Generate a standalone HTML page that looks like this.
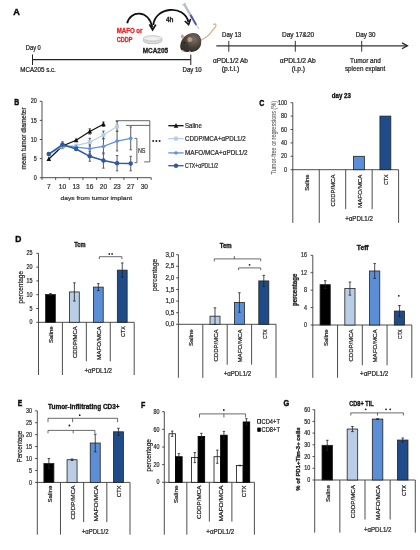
<!DOCTYPE html>
<html><head><meta charset="utf-8"><title>Figure</title>
<style>
html,body{margin:0;padding:0;background:#fff;}
body{width:420px;height:550px;overflow:hidden;}
svg{display:block;font-family:"Liberation Sans", "DejaVu Sans", sans-serif;}
</style></head>
<body>
<svg width="420" height="550" viewBox="0 0 420 550">
<rect width="420" height="550" fill="#fff"/>
<text x="13.15" y="15" font-size="9.6" font-weight="bold" fill="#0a0a0a" stroke="#0a0a0a" stroke-width="0.45" textLength="6.6" lengthAdjust="spacingAndGlyphs">A</text>
<line x1="32.5" y1="59.6" x2="190.8" y2="59.6" stroke="#222" stroke-width="1.1"/>
<line x1="32.5" y1="54.5" x2="32.5" y2="65" stroke="#222" stroke-width="1"/>
<line x1="190.8" y1="54.5" x2="190.8" y2="65" stroke="#222" stroke-width="1"/>
<text x="25.8" y="50.4" font-size="6.3" fill="#222" stroke="#222" stroke-width="0.22" text-anchor="start" textLength="15" lengthAdjust="spacingAndGlyphs">Day 0</text>
<text x="20.3" y="72.4" font-size="6.3" fill="#222" stroke="#222" stroke-width="0.22" text-anchor="start" textLength="35.5" lengthAdjust="spacingAndGlyphs">MCA205 s.c.</text>
<text x="182.5" y="72.4" font-size="6.3" fill="#222" stroke="#222" stroke-width="0.22" text-anchor="start" textLength="19.2" lengthAdjust="spacingAndGlyphs">Day 10</text>
<line x1="216.3" y1="45.8" x2="407" y2="45.8" stroke="#333" stroke-width="1.3"/>
<polyline points="402,42.9 407.5,45.8 402,48.7" fill="none" stroke="#222" stroke-width="1.2"/>
<line x1="228.8" y1="40.8" x2="228.8" y2="51.7" stroke="#333" stroke-width="1"/>
<line x1="295.3" y1="40.8" x2="295.3" y2="51.7" stroke="#333" stroke-width="1"/>
<line x1="361.7" y1="40.8" x2="361.7" y2="51.7" stroke="#333" stroke-width="1"/>
<text x="222" y="37" font-size="6.3" fill="#222" stroke="#222" stroke-width="0.22" text-anchor="start" textLength="19.2" lengthAdjust="spacingAndGlyphs">Day 13</text>
<text x="282" y="37.2" font-size="6.3" fill="#222" stroke="#222" stroke-width="0.22" text-anchor="start" textLength="32.2" lengthAdjust="spacingAndGlyphs">Day 17&amp;20</text>
<text x="355.8" y="37" font-size="6.3" fill="#222" stroke="#222" stroke-width="0.22" text-anchor="start" textLength="19.7" lengthAdjust="spacingAndGlyphs">Day 30</text>
<text x="213" y="63.2" font-size="6.3" fill="#222" stroke="#222" stroke-width="0.22" text-anchor="start" textLength="35" lengthAdjust="spacingAndGlyphs">αPDL1/2  Ab</text>
<text x="221.7" y="70.6" font-size="6.3" fill="#222" stroke="#222" stroke-width="0.22" text-anchor="start" textLength="17.5" lengthAdjust="spacingAndGlyphs">(p.t.i.)</text>
<text x="279.8" y="63.2" font-size="6.3" fill="#222" stroke="#222" stroke-width="0.22" text-anchor="start" textLength="36" lengthAdjust="spacingAndGlyphs">αPDL1/2  Ab</text>
<text x="291.7" y="70.6" font-size="6.3" fill="#222" stroke="#222" stroke-width="0.22" text-anchor="start" textLength="13.3" lengthAdjust="spacingAndGlyphs">(i.p.)</text>
<text x="350" y="62.9" font-size="6.3" fill="#222" stroke="#222" stroke-width="0.22" text-anchor="start" textLength="30.8" lengthAdjust="spacingAndGlyphs">Tumor and</text>
<text x="345" y="70.6" font-size="6.3" fill="#222" stroke="#222" stroke-width="0.22" text-anchor="start" textLength="40.3" lengthAdjust="spacingAndGlyphs">spleen explant</text>
<text x="116.7" y="33.3" font-size="6.4" font-weight="bold" fill="#f02020" stroke="#f02020" stroke-width="0.3" text-anchor="start" textLength="25.8" lengthAdjust="spacingAndGlyphs">MAFO or</text>
<text x="116.7" y="41.7" font-size="6.4" font-weight="bold" fill="#f02020" stroke="#f02020" stroke-width="0.3" text-anchor="start" textLength="15.8" lengthAdjust="spacingAndGlyphs">CDDP</text>
<text x="142.8" y="53.3" font-size="6.3" font-weight="bold" fill="#222" stroke="#222" stroke-width="0.3" text-anchor="start" textLength="25.2" lengthAdjust="spacingAndGlyphs">MCA205</text>
<text x="165.9" y="21.6" font-size="6.8" font-weight="bold" fill="#222" stroke="#222" stroke-width="0.3" text-anchor="start" textLength="7.4" lengthAdjust="spacingAndGlyphs">4h</text>
<path d="M127.2 23.2 C 130 10.5, 148.5 9, 152.4 27.5" fill="none" stroke="#111" stroke-width="1.8"/>
<polyline points="149.4,24.4 152.6,29.8 155.8,24.6" fill="none" stroke="#111" stroke-width="1.7"/>
<path d="M153.3 25 C 155 7, 184 4, 188.4 22" fill="none" stroke="#111" stroke-width="1.8"/>
<polyline points="184.8,21 188.6,24.6 190.6,19" fill="none" stroke="#111" stroke-width="1.7"/>
<path d="M143.3 38.6 L143.3 40.8 A9.3 3 0 0 0 161.9 40.8 L161.9 38.6 Z" fill="#dcdcdc" stroke="#a8a8a8" stroke-width="0.6"/>
<ellipse cx="152.6" cy="38.4" rx="9.3" ry="2.8" fill="#f2f2f2" stroke="#b0b0b0" stroke-width="0.6"/>
<ellipse cx="152.6" cy="38.6" rx="7.4" ry="1.9" fill="none" stroke="#d0d0d0" stroke-width="0.5"/>
<line x1="184" y1="3.8" x2="192.5" y2="18.5" stroke="#c4c6dc" stroke-width="2.6"/>
<line x1="184.6" y1="4.6" x2="192" y2="17.5" stroke="#a9acc9" stroke-width="0.8"/>
<line x1="190.5" y1="15" x2="196.3" y2="25" stroke="#4b52b2" stroke-width="1.9"/>
<line x1="196" y1="24.5" x2="199" y2="29" stroke="#9a9cb8" stroke-width="0.7"/>
<line x1="182.5" y1="5.2" x2="185.8" y2="3.2" stroke="#b8b8c8" stroke-width="1.1"/>
<defs><radialGradient id="mg" cx="0.62" cy="0.32" r="0.75"><stop offset="0" stop-color="#7d7164"/><stop offset="0.5" stop-color="#4f473f"/><stop offset="1" stop-color="#2a2622"/></radialGradient></defs>
<path d="M200.3 40.3 C 205 38.8, 209 35.5, 212 31.2 C 214 28.5, 216.6 26.6, 215.9 24.9 C 215.5 23.9, 214.4 23.7, 213.6 24.4" fill="none" stroke="#d5b98c" stroke-width="1.35" stroke-linecap="round"/>
<path d="M180.3 46.5 C 180.5 41, 183 37.5, 186 35.5 C 189 33, 194 32.3, 197.5 34 C 200.5 35.8, 201.5 39.5, 201.2 43 C 200.8 47.5, 198 50.8, 193 51.8 C 189 52.5, 184.5 52, 182 50.5 C 180.8 49.5, 180.2 48, 180.3 46.5 Z" fill="url(#mg)"/>
<ellipse cx="184.6" cy="46.2" rx="4.0" ry="4.6" fill="#3a3530" opacity="0.7"/>
<ellipse cx="182.4" cy="36.4" rx="1.5" ry="2.0" fill="#c7a68a"/>
<ellipse cx="189.8" cy="39.5" rx="2.3" ry="2.5" fill="#b99d82"/>
<ellipse cx="182.8" cy="50.8" rx="1.1" ry="0.8" fill="#c9a080"/>
<ellipse cx="189.8" cy="51.6" rx="1.2" ry="0.8" fill="#c9a080"/>
<circle cx="184.3" cy="42.6" r="0.6" fill="#111"/>
<text x="14.15" y="104.9" font-size="9.6" font-weight="bold" fill="#0a0a0a" stroke="#0a0a0a" stroke-width="0.45" textLength="5" lengthAdjust="spacingAndGlyphs">B</text>
<line x1="42" y1="101.3" x2="42" y2="177.7" stroke="#3a3a3a" stroke-width="0.9"/>
<line x1="42" y1="177.7" x2="151.2" y2="177.7" stroke="#3a3a3a" stroke-width="0.9"/>
<line x1="39.8" y1="177.7" x2="42" y2="177.7" stroke="#3a3a3a" stroke-width="0.9"/>
<text x="33.7" y="179.81" font-size="6.4" fill="#2a2a2a" stroke="#2a2a2a" stroke-width="0.22" text-anchor="start" textLength="3" lengthAdjust="spacingAndGlyphs">0</text>
<line x1="39.8" y1="158.6" x2="42" y2="158.6" stroke="#3a3a3a" stroke-width="0.9"/>
<text x="33.7" y="160.71" font-size="6.4" fill="#2a2a2a" stroke="#2a2a2a" stroke-width="0.22" text-anchor="start" textLength="3" lengthAdjust="spacingAndGlyphs">5</text>
<line x1="39.8" y1="139.5" x2="42" y2="139.5" stroke="#3a3a3a" stroke-width="0.9"/>
<text x="30.7" y="141.61" font-size="6.4" fill="#2a2a2a" stroke="#2a2a2a" stroke-width="0.22" text-anchor="start" textLength="6" lengthAdjust="spacingAndGlyphs">10</text>
<line x1="39.8" y1="120.4" x2="42" y2="120.4" stroke="#3a3a3a" stroke-width="0.9"/>
<text x="30.7" y="122.51" font-size="6.4" fill="#2a2a2a" stroke="#2a2a2a" stroke-width="0.22" text-anchor="start" textLength="6" lengthAdjust="spacingAndGlyphs">15</text>
<line x1="39.8" y1="101.3" x2="42" y2="101.3" stroke="#3a3a3a" stroke-width="0.9"/>
<text x="30.7" y="103.41" font-size="6.4" fill="#2a2a2a" stroke="#2a2a2a" stroke-width="0.22" text-anchor="start" textLength="6" lengthAdjust="spacingAndGlyphs">20</text>
<line x1="42" y1="177.7" x2="42" y2="179.9" stroke="#3a3a3a" stroke-width="0.9"/>
<line x1="55.65" y1="177.7" x2="55.65" y2="179.9" stroke="#3a3a3a" stroke-width="0.9"/>
<line x1="69.3" y1="177.7" x2="69.3" y2="179.9" stroke="#3a3a3a" stroke-width="0.9"/>
<line x1="82.95" y1="177.7" x2="82.95" y2="179.9" stroke="#3a3a3a" stroke-width="0.9"/>
<line x1="96.6" y1="177.7" x2="96.6" y2="179.9" stroke="#3a3a3a" stroke-width="0.9"/>
<line x1="110.25" y1="177.7" x2="110.25" y2="179.9" stroke="#3a3a3a" stroke-width="0.9"/>
<line x1="123.9" y1="177.7" x2="123.9" y2="179.9" stroke="#3a3a3a" stroke-width="0.9"/>
<line x1="137.55" y1="177.7" x2="137.55" y2="179.9" stroke="#3a3a3a" stroke-width="0.9"/>
<line x1="151.2" y1="177.7" x2="151.2" y2="179.9" stroke="#3a3a3a" stroke-width="0.9"/>
<text x="48.83" y="188.9" font-size="6.6" fill="#333" stroke="#333" stroke-width="0.22" text-anchor="middle">7</text>
<text x="62.48" y="188.9" font-size="6.6" fill="#333" stroke="#333" stroke-width="0.22" text-anchor="middle">10</text>
<text x="76.12" y="188.9" font-size="6.6" fill="#333" stroke="#333" stroke-width="0.22" text-anchor="middle">13</text>
<text x="89.78" y="188.9" font-size="6.6" fill="#333" stroke="#333" stroke-width="0.22" text-anchor="middle">16</text>
<text x="103.43" y="188.9" font-size="6.6" fill="#333" stroke="#333" stroke-width="0.22" text-anchor="middle">20</text>
<text x="117.08" y="188.9" font-size="6.6" fill="#333" stroke="#333" stroke-width="0.22" text-anchor="middle">23</text>
<text x="130.73" y="188.9" font-size="6.6" fill="#333" stroke="#333" stroke-width="0.22" text-anchor="middle">27</text>
<text x="144.38" y="188.9" font-size="6.6" fill="#333" stroke="#333" stroke-width="0.22" text-anchor="middle">30</text>
<text x="60.6" y="199.5" font-size="5.8" fill="#333" stroke="#333" stroke-width="0.22" text-anchor="start" textLength="71.4" lengthAdjust="spacingAndGlyphs">days from tumor implant</text>
<text transform="translate(25.54 107.4) rotate(-90)" font-size="6.4" stroke="#2a2a2a" stroke-width="0.22" fill="#2a2a2a" text-anchor="end" textLength="62.1" lengthAdjust="spacingAndGlyphs">mean tumor diameter</text>
<line x1="62.48" y1="141.79" x2="62.48" y2="148.67" stroke="#5a5a5a" stroke-width="1"/>
<line x1="61.27" y1="141.79" x2="63.68" y2="141.79" stroke="#5a5a5a" stroke-width="1"/>
<line x1="61.27" y1="148.67" x2="63.68" y2="148.67" stroke="#5a5a5a" stroke-width="1"/>
<line x1="89.78" y1="128.8" x2="89.78" y2="134.15" stroke="#5a5a5a" stroke-width="1"/>
<line x1="88.58" y1="128.8" x2="90.98" y2="128.8" stroke="#5a5a5a" stroke-width="1"/>
<line x1="88.58" y1="134.15" x2="90.98" y2="134.15" stroke="#5a5a5a" stroke-width="1"/>
<line x1="103.43" y1="121.93" x2="103.43" y2="126.51" stroke="#5a5a5a" stroke-width="1"/>
<line x1="102.23" y1="121.93" x2="104.63" y2="121.93" stroke="#5a5a5a" stroke-width="1"/>
<line x1="102.23" y1="126.51" x2="104.63" y2="126.51" stroke="#5a5a5a" stroke-width="1"/>
<line x1="89.78" y1="138.35" x2="89.78" y2="145.99" stroke="#5a5a5a" stroke-width="1"/>
<line x1="88.58" y1="138.35" x2="90.98" y2="138.35" stroke="#5a5a5a" stroke-width="1"/>
<line x1="88.58" y1="145.99" x2="90.98" y2="145.99" stroke="#5a5a5a" stroke-width="1"/>
<line x1="103.43" y1="131.1" x2="103.43" y2="138.74" stroke="#5a5a5a" stroke-width="1"/>
<line x1="102.23" y1="131.1" x2="104.63" y2="131.1" stroke="#5a5a5a" stroke-width="1"/>
<line x1="102.23" y1="138.74" x2="104.63" y2="138.74" stroke="#5a5a5a" stroke-width="1"/>
<line x1="117.08" y1="121.55" x2="117.08" y2="131.48" stroke="#5a5a5a" stroke-width="1"/>
<line x1="115.88" y1="121.55" x2="118.28" y2="121.55" stroke="#5a5a5a" stroke-width="1"/>
<line x1="115.88" y1="131.48" x2="118.28" y2="131.48" stroke="#5a5a5a" stroke-width="1"/>
<line x1="89.78" y1="144.08" x2="89.78" y2="153.25" stroke="#5a5a5a" stroke-width="1"/>
<line x1="88.58" y1="144.08" x2="90.98" y2="144.08" stroke="#5a5a5a" stroke-width="1"/>
<line x1="88.58" y1="153.25" x2="90.98" y2="153.25" stroke="#5a5a5a" stroke-width="1"/>
<line x1="103.43" y1="138.74" x2="103.43" y2="154.02" stroke="#5a5a5a" stroke-width="1"/>
<line x1="102.23" y1="138.74" x2="104.63" y2="138.74" stroke="#5a5a5a" stroke-width="1"/>
<line x1="102.23" y1="154.02" x2="104.63" y2="154.02" stroke="#5a5a5a" stroke-width="1"/>
<line x1="117.08" y1="131.1" x2="117.08" y2="150.96" stroke="#5a5a5a" stroke-width="1"/>
<line x1="115.88" y1="131.1" x2="118.28" y2="131.1" stroke="#5a5a5a" stroke-width="1"/>
<line x1="115.88" y1="150.96" x2="118.28" y2="150.96" stroke="#5a5a5a" stroke-width="1"/>
<line x1="130.73" y1="126.89" x2="130.73" y2="149.81" stroke="#5a5a5a" stroke-width="1"/>
<line x1="129.53" y1="126.89" x2="131.93" y2="126.89" stroke="#5a5a5a" stroke-width="1"/>
<line x1="129.53" y1="149.81" x2="131.93" y2="149.81" stroke="#5a5a5a" stroke-width="1"/>
<line x1="89.78" y1="151.34" x2="89.78" y2="161.27" stroke="#5a5a5a" stroke-width="1"/>
<line x1="88.58" y1="151.34" x2="90.98" y2="151.34" stroke="#5a5a5a" stroke-width="1"/>
<line x1="88.58" y1="161.27" x2="90.98" y2="161.27" stroke="#5a5a5a" stroke-width="1"/>
<line x1="103.43" y1="152.87" x2="103.43" y2="168.15" stroke="#5a5a5a" stroke-width="1"/>
<line x1="102.23" y1="152.87" x2="104.63" y2="152.87" stroke="#5a5a5a" stroke-width="1"/>
<line x1="102.23" y1="168.15" x2="104.63" y2="168.15" stroke="#5a5a5a" stroke-width="1"/>
<line x1="117.08" y1="155.54" x2="117.08" y2="170.82" stroke="#5a5a5a" stroke-width="1"/>
<line x1="115.88" y1="155.54" x2="118.28" y2="155.54" stroke="#5a5a5a" stroke-width="1"/>
<line x1="115.88" y1="170.82" x2="118.28" y2="170.82" stroke="#5a5a5a" stroke-width="1"/>
<line x1="130.73" y1="156.31" x2="130.73" y2="170.82" stroke="#5a5a5a" stroke-width="1"/>
<line x1="129.53" y1="156.31" x2="131.93" y2="156.31" stroke="#5a5a5a" stroke-width="1"/>
<line x1="129.53" y1="170.82" x2="131.93" y2="170.82" stroke="#5a5a5a" stroke-width="1"/>
<polyline points="48.83,158.98 62.48,145.99 76.12,140.26 89.78,131.48 103.43,124.22" fill="none" stroke="#111" stroke-width="1.3"/>
<polygon points="48.83,156.22 46.53,161.05 51.12,161.05" fill="#111"/>
<polygon points="62.48,143.23 60.18,148.06 64.78,148.06" fill="#111"/>
<polygon points="76.12,137.5 73.83,142.33 78.42,142.33" fill="#111"/>
<polygon points="89.78,128.72 87.48,133.55 92.08,133.55" fill="#111"/>
<polygon points="103.43,121.46 101.13,126.29 105.73,126.29" fill="#111"/>
<polyline points="48.83,154.02 62.48,146.38 76.12,145.61 89.78,142.17 103.43,134.92 117.08,126.51" fill="none" stroke="#b7cdea" stroke-width="1.2"/>
<rect x="46.88" y="152.07" width="3.9" height="3.9" fill="#b7cdea"/>
<rect x="60.52" y="144.43" width="3.9" height="3.9" fill="#b7cdea"/>
<rect x="74.17" y="143.66" width="3.9" height="3.9" fill="#b7cdea"/>
<rect x="87.83" y="140.22" width="3.9" height="3.9" fill="#b7cdea"/>
<rect x="101.48" y="132.97" width="3.9" height="3.9" fill="#b7cdea"/>
<rect x="115.12" y="124.56" width="3.9" height="3.9" fill="#b7cdea"/>
<polyline points="48.83,154.02 62.48,145.99 76.12,147.14 89.78,148.67 103.43,146.38 117.08,141.03 130.73,138.35" fill="none" stroke="#5b93dc" stroke-width="1.3"/>
<polygon points="48.83,151.72 51.12,154.02 48.83,156.32 46.53,154.02" fill="#5b93dc"/>
<polygon points="62.48,143.69 64.78,145.99 62.48,148.29 60.18,145.99" fill="#5b93dc"/>
<polygon points="76.12,144.84 78.42,147.14 76.12,149.44 73.83,147.14" fill="#5b93dc"/>
<polygon points="89.78,146.37 92.08,148.67 89.78,150.97 87.48,148.67" fill="#5b93dc"/>
<polygon points="103.43,144.08 105.73,146.38 103.43,148.68 101.13,146.38" fill="#5b93dc"/>
<polygon points="117.08,138.73 119.38,141.03 117.08,143.33 114.78,141.03" fill="#5b93dc"/>
<polygon points="130.73,136.05 133.03,138.35 130.73,140.65 128.43,138.35" fill="#5b93dc"/>
<polyline points="48.83,154.02 62.48,144.47 76.12,149.05 89.78,156.31 103.43,160.51 117.08,163.18 130.73,163.57" fill="none" stroke="#2e5a9e" stroke-width="1.5"/>
<circle cx="48.83" cy="154.02" r="2.25" fill="#2e5a9e"/>
<circle cx="62.48" cy="144.47" r="2.25" fill="#2e5a9e"/>
<circle cx="76.12" cy="149.05" r="2.25" fill="#2e5a9e"/>
<circle cx="89.78" cy="156.31" r="2.25" fill="#2e5a9e"/>
<circle cx="103.43" cy="160.51" r="2.25" fill="#2e5a9e"/>
<circle cx="117.08" cy="163.18" r="2.25" fill="#2e5a9e"/>
<circle cx="130.73" cy="163.57" r="2.25" fill="#2e5a9e"/>
<polyline points="115.7,120.7 149.8,120.7 149.8,161.9 144.1,161.9" fill="none" stroke="#555" stroke-width="0.9"/>
<line x1="126.1" y1="125.4" x2="149.8" y2="125.4" stroke="#555" stroke-width="0.9"/>
<polyline points="134.5,138.3 136.9,138.3 136.9,162.7 134.5,162.7" fill="none" stroke="#555" stroke-width="0.9"/>
<text x="137.9" y="152.7" font-size="6.4" fill="#3a3a3a" stroke="#3a3a3a" stroke-width="0.22" text-anchor="start" textLength="7.5" lengthAdjust="spacingAndGlyphs">NS</text>
<circle cx="153.2" cy="141" r="1.0" fill="#222"/>
<circle cx="156.4" cy="141" r="1.0" fill="#222"/>
<circle cx="159.6" cy="141" r="1.0" fill="#222"/>
<line x1="168.3" y1="125.7" x2="183.6" y2="125.7" stroke="#111" stroke-width="1.3"/>
<polygon points="176,122.94 173.7,127.77 178.3,127.77" fill="#111"/>
<text x="185" y="128" font-size="6.5" fill="#2a2a2a" stroke="#2a2a2a" stroke-width="0.22" text-anchor="start" textLength="16.8" lengthAdjust="spacingAndGlyphs">Saline</text>
<line x1="168.3" y1="138.6" x2="183.6" y2="138.6" stroke="#b7cdea" stroke-width="1.3"/>
<rect x="174.05" y="136.65" width="3.9" height="3.9" fill="#b7cdea"/>
<text x="185" y="140.9" font-size="6.5" fill="#2a2a2a" stroke="#2a2a2a" stroke-width="0.22" text-anchor="start" textLength="60.7" lengthAdjust="spacingAndGlyphs">CDDP/MCA+αPDL1/2</text>
<line x1="168.3" y1="152.9" x2="183.6" y2="152.9" stroke="#5b93dc" stroke-width="1.3"/>
<polygon points="176,150.7 178.2,152.9 176,155.1 173.8,152.9" fill="#5b93dc"/>
<text x="185" y="155.2" font-size="6.5" fill="#2a2a2a" stroke="#2a2a2a" stroke-width="0.22" text-anchor="start" textLength="62.5" lengthAdjust="spacingAndGlyphs">MAFO/MCA+αPDL1/2</text>
<line x1="168.3" y1="165.7" x2="183.6" y2="165.7" stroke="#2e5a9e" stroke-width="1.3"/>
<circle cx="176" cy="165.7" r="2.25" fill="#2e5a9e"/>
<text x="185" y="168" font-size="6.5" fill="#2a2a2a" stroke="#2a2a2a" stroke-width="0.22" text-anchor="start" textLength="33.2" lengthAdjust="spacingAndGlyphs">CTX+αPDL1/2</text>
<text x="259.25" y="105.6" font-size="9.6" font-weight="bold" fill="#0a0a0a" stroke="#0a0a0a" stroke-width="0.45" textLength="5.1" lengthAdjust="spacingAndGlyphs">C</text>
<text x="331.8" y="97.8" font-size="6.3" font-weight="bold" fill="#111" stroke="#111" stroke-width="0.3" text-anchor="start" textLength="19.1" lengthAdjust="spacingAndGlyphs">day 23</text>
<text transform="translate(275.6 100.9) rotate(-90)" font-size="6.3" stroke="#555" stroke-width="0.05" fill="#555" text-anchor="end" textLength="73.5" lengthAdjust="spacingAndGlyphs">Tumor-free or regressions (%)</text>
<line x1="292.8" y1="102.7" x2="292.8" y2="222.9" stroke="#3a3a3a" stroke-width="0.9"/>
<line x1="290.6" y1="169.7" x2="292.8" y2="169.7" stroke="#3a3a3a" stroke-width="0.9"/>
<text x="283.9" y="171.84" font-size="6.5" fill="#2a2a2a" stroke="#2a2a2a" stroke-width="0.22" text-anchor="start" textLength="3" lengthAdjust="spacingAndGlyphs">0</text>
<line x1="290.6" y1="156.3" x2="292.8" y2="156.3" stroke="#3a3a3a" stroke-width="0.9"/>
<text x="280.9" y="158.44" font-size="6.5" fill="#2a2a2a" stroke="#2a2a2a" stroke-width="0.22" text-anchor="start" textLength="6" lengthAdjust="spacingAndGlyphs">20</text>
<line x1="290.6" y1="142.9" x2="292.8" y2="142.9" stroke="#3a3a3a" stroke-width="0.9"/>
<text x="280.9" y="145.05" font-size="6.5" fill="#2a2a2a" stroke="#2a2a2a" stroke-width="0.22" text-anchor="start" textLength="6" lengthAdjust="spacingAndGlyphs">40</text>
<line x1="290.6" y1="129.5" x2="292.8" y2="129.5" stroke="#3a3a3a" stroke-width="0.9"/>
<text x="280.9" y="131.65" font-size="6.5" fill="#2a2a2a" stroke="#2a2a2a" stroke-width="0.22" text-anchor="start" textLength="6" lengthAdjust="spacingAndGlyphs">60</text>
<line x1="290.6" y1="116.1" x2="292.8" y2="116.1" stroke="#3a3a3a" stroke-width="0.9"/>
<text x="280.9" y="118.24" font-size="6.5" fill="#2a2a2a" stroke="#2a2a2a" stroke-width="0.22" text-anchor="start" textLength="6" lengthAdjust="spacingAndGlyphs">80</text>
<line x1="290.6" y1="102.7" x2="292.8" y2="102.7" stroke="#3a3a3a" stroke-width="0.9"/>
<text x="277.9" y="104.84" font-size="6.5" fill="#2a2a2a" stroke="#2a2a2a" stroke-width="0.22" text-anchor="start" textLength="9" lengthAdjust="spacingAndGlyphs">100</text>
<line x1="292.8" y1="169.7" x2="398.6" y2="169.7" stroke="#3a3a3a" stroke-width="0.9"/>
<line x1="319.25" y1="169.7" x2="319.25" y2="222.9" stroke="#3a3a3a" stroke-width="0.9"/>
<line x1="345.7" y1="169.7" x2="345.7" y2="209.1" stroke="#3a3a3a" stroke-width="0.9"/>
<line x1="372.15" y1="169.7" x2="372.15" y2="209.1" stroke="#3a3a3a" stroke-width="0.9"/>
<line x1="398.6" y1="169.7" x2="398.6" y2="222.9" stroke="#3a3a3a" stroke-width="0.9"/>
<rect x="353.48" y="156.3" width="10.9" height="13.4" fill="#5b8ed6" stroke="#222" stroke-width="0.8"/>
<rect x="379.93" y="116.1" width="10.9" height="53.6" fill="#1f4c88" stroke="#222" stroke-width="0.8"/>
<text transform="translate(308.8 174.6) rotate(-90)" font-size="6.2" stroke="#222" stroke-width="0.22" fill="#222" text-anchor="end" textLength="16.2" lengthAdjust="spacingAndGlyphs">Saline</text>
<text transform="translate(335.25 174.6) rotate(-90)" font-size="6.2" stroke="#222" stroke-width="0.22" fill="#222" text-anchor="end" textLength="31.8" lengthAdjust="spacingAndGlyphs">CDDP/MCA</text>
<text transform="translate(361.7 174.6) rotate(-90)" font-size="6.2" stroke="#222" stroke-width="0.22" fill="#222" text-anchor="end" textLength="33.3" lengthAdjust="spacingAndGlyphs">MAFO/MCA</text>
<text transform="translate(388.15 174.6) rotate(-90)" font-size="6.2" stroke="#222" stroke-width="0.22" fill="#222" text-anchor="end" textLength="10.5" lengthAdjust="spacingAndGlyphs">CTX</text>
<text x="345.2" y="221" font-size="6.8" fill="#222" stroke="#222" stroke-width="0.22" text-anchor="start" textLength="27.7" lengthAdjust="spacingAndGlyphs">+αPDL1/2</text>
<text x="15.15" y="242" font-size="9.6" font-weight="bold" fill="#0a0a0a" stroke="#0a0a0a" stroke-width="0.45" textLength="6.1" lengthAdjust="spacingAndGlyphs">D</text>
<text x="74.3" y="247.4" font-size="6.3" font-weight="bold" fill="#111" stroke="#111" stroke-width="0.3" text-anchor="start" textLength="11.2" lengthAdjust="spacingAndGlyphs">Tcm</text>
<text transform="translate(23.11 271) rotate(-90)" font-size="6.6" stroke="#2a2a2a" stroke-width="0.22" fill="#2a2a2a" text-anchor="end" textLength="32.4" lengthAdjust="spacingAndGlyphs">percentage</text>
<line x1="38.5" y1="253.3" x2="38.5" y2="375" stroke="#3a3a3a" stroke-width="0.9"/>
<line x1="36.3" y1="322.3" x2="38.5" y2="322.3" stroke="#3a3a3a" stroke-width="0.9"/>
<text x="29.5" y="324.44" font-size="6.5" fill="#2a2a2a" stroke="#2a2a2a" stroke-width="0.22" text-anchor="start" textLength="3" lengthAdjust="spacingAndGlyphs">0</text>
<line x1="36.3" y1="308.5" x2="38.5" y2="308.5" stroke="#3a3a3a" stroke-width="0.9"/>
<text x="29.5" y="310.64" font-size="6.5" fill="#2a2a2a" stroke="#2a2a2a" stroke-width="0.22" text-anchor="start" textLength="3" lengthAdjust="spacingAndGlyphs">5</text>
<line x1="36.3" y1="294.7" x2="38.5" y2="294.7" stroke="#3a3a3a" stroke-width="0.9"/>
<text x="26.5" y="296.84" font-size="6.5" fill="#2a2a2a" stroke="#2a2a2a" stroke-width="0.22" text-anchor="start" textLength="6" lengthAdjust="spacingAndGlyphs">10</text>
<line x1="36.3" y1="280.9" x2="38.5" y2="280.9" stroke="#3a3a3a" stroke-width="0.9"/>
<text x="26.5" y="283.05" font-size="6.5" fill="#2a2a2a" stroke="#2a2a2a" stroke-width="0.22" text-anchor="start" textLength="6" lengthAdjust="spacingAndGlyphs">15</text>
<line x1="36.3" y1="267.1" x2="38.5" y2="267.1" stroke="#3a3a3a" stroke-width="0.9"/>
<text x="26.5" y="269.25" font-size="6.5" fill="#2a2a2a" stroke="#2a2a2a" stroke-width="0.22" text-anchor="start" textLength="6" lengthAdjust="spacingAndGlyphs">20</text>
<line x1="36.3" y1="253.3" x2="38.5" y2="253.3" stroke="#3a3a3a" stroke-width="0.9"/>
<text x="26.5" y="255.45" font-size="6.5" fill="#2a2a2a" stroke="#2a2a2a" stroke-width="0.22" text-anchor="start" textLength="6" lengthAdjust="spacingAndGlyphs">25</text>
<line x1="38.5" y1="322.3" x2="134.2" y2="322.3" stroke="#3a3a3a" stroke-width="0.9"/>
<line x1="62.42" y1="322.3" x2="62.42" y2="375" stroke="#3a3a3a" stroke-width="0.9"/>
<line x1="86.35" y1="322.3" x2="86.35" y2="361.3" stroke="#3a3a3a" stroke-width="0.9"/>
<line x1="110.27" y1="322.3" x2="110.27" y2="361.3" stroke="#3a3a3a" stroke-width="0.9"/>
<line x1="134.2" y1="322.3" x2="134.2" y2="375" stroke="#3a3a3a" stroke-width="0.9"/>
<rect x="45.56" y="294.42" width="9.8" height="27.88" fill="#000" stroke="#222" stroke-width="0.8"/>
<line x1="50.46" y1="293.6" x2="50.46" y2="295.25" stroke="#222" stroke-width="0.8"/>
<line x1="49.16" y1="293.6" x2="51.76" y2="293.6" stroke="#222" stroke-width="0.8"/>
<line x1="49.16" y1="295.25" x2="51.76" y2="295.25" stroke="#222" stroke-width="0.8"/>
<rect x="69.49" y="291.94" width="9.8" height="30.36" fill="#b9cde6" stroke="#222" stroke-width="0.8"/>
<line x1="74.39" y1="282.83" x2="74.39" y2="301.05" stroke="#222" stroke-width="0.8"/>
<line x1="73.09" y1="282.83" x2="75.69" y2="282.83" stroke="#222" stroke-width="0.8"/>
<line x1="73.09" y1="301.05" x2="75.69" y2="301.05" stroke="#222" stroke-width="0.8"/>
<rect x="93.41" y="287.11" width="9.8" height="35.19" fill="#5b8ed6" stroke="#222" stroke-width="0.8"/>
<line x1="98.31" y1="283.66" x2="98.31" y2="290.56" stroke="#222" stroke-width="0.8"/>
<line x1="97.01" y1="283.66" x2="99.61" y2="283.66" stroke="#222" stroke-width="0.8"/>
<line x1="97.01" y1="290.56" x2="99.61" y2="290.56" stroke="#222" stroke-width="0.8"/>
<rect x="117.34" y="270.14" width="9.8" height="52.16" fill="#1f4c88" stroke="#222" stroke-width="0.8"/>
<line x1="122.24" y1="262.96" x2="122.24" y2="277.31" stroke="#222" stroke-width="0.8"/>
<line x1="120.94" y1="262.96" x2="123.54" y2="262.96" stroke="#222" stroke-width="0.8"/>
<line x1="120.94" y1="277.31" x2="123.54" y2="277.31" stroke="#222" stroke-width="0.8"/>
<text transform="translate(53.23 326.3) rotate(-90)" font-size="6.2" stroke="#222" stroke-width="0.22" fill="#222" text-anchor="end" textLength="16.7" lengthAdjust="spacingAndGlyphs">Saline</text>
<text transform="translate(77.16 326.3) rotate(-90)" font-size="6.2" stroke="#222" stroke-width="0.22" fill="#222" text-anchor="end" textLength="31.7" lengthAdjust="spacingAndGlyphs">CDDP/MCA</text>
<text transform="translate(101.08 326.3) rotate(-90)" font-size="6.2" stroke="#222" stroke-width="0.22" fill="#222" text-anchor="end" textLength="33.7" lengthAdjust="spacingAndGlyphs">MAFO/MCA</text>
<text transform="translate(125.01 326.3) rotate(-90)" font-size="6.2" stroke="#222" stroke-width="0.22" fill="#222" text-anchor="end" textLength="10.7" lengthAdjust="spacingAndGlyphs">CTX</text>
<text x="84.5" y="373" font-size="6.8" fill="#222" stroke="#222" stroke-width="0.22" text-anchor="start" textLength="27.5" lengthAdjust="spacingAndGlyphs">+αPDL1/2</text>
<polyline points="99.3,259 99.3,256.7 121.9,256.7 121.9,259" fill="none" stroke="#444" stroke-width="0.8"/>
<circle cx="109.3" cy="253.9" r="0.85" fill="#1a1a1a"/>
<circle cx="112.1" cy="253.9" r="0.85" fill="#1a1a1a"/>
<text x="219.8" y="247.9" font-size="6.3" font-weight="bold" fill="#111" stroke="#111" stroke-width="0.3" text-anchor="start" textLength="11.9" lengthAdjust="spacingAndGlyphs">Tem</text>
<text transform="translate(156.71 259) rotate(-90)" font-size="6.6" stroke="#2a2a2a" stroke-width="0.22" fill="#2a2a2a" text-anchor="end" textLength="32" lengthAdjust="spacingAndGlyphs">percentage</text>
<line x1="178.4" y1="254.7" x2="178.4" y2="377.8" stroke="#3a3a3a" stroke-width="0.9"/>
<line x1="176.2" y1="324.3" x2="178.4" y2="324.3" stroke="#3a3a3a" stroke-width="0.9"/>
<text x="165.42" y="326.48" font-size="6.6" fill="#2a2a2a" stroke="#2a2a2a" stroke-width="0.22" text-anchor="start" textLength="8.78" lengthAdjust="spacingAndGlyphs">0,0</text>
<line x1="176.2" y1="312.7" x2="178.4" y2="312.7" stroke="#3a3a3a" stroke-width="0.9"/>
<text x="165.42" y="314.88" font-size="6.6" fill="#2a2a2a" stroke="#2a2a2a" stroke-width="0.22" text-anchor="start" textLength="8.78" lengthAdjust="spacingAndGlyphs">0,5</text>
<line x1="176.2" y1="301.1" x2="178.4" y2="301.1" stroke="#3a3a3a" stroke-width="0.9"/>
<text x="165.42" y="303.28" font-size="6.6" fill="#2a2a2a" stroke="#2a2a2a" stroke-width="0.22" text-anchor="start" textLength="8.78" lengthAdjust="spacingAndGlyphs">1,0</text>
<line x1="176.2" y1="289.5" x2="178.4" y2="289.5" stroke="#3a3a3a" stroke-width="0.9"/>
<text x="165.42" y="291.68" font-size="6.6" fill="#2a2a2a" stroke="#2a2a2a" stroke-width="0.22" text-anchor="start" textLength="8.78" lengthAdjust="spacingAndGlyphs">1,5</text>
<line x1="176.2" y1="277.9" x2="178.4" y2="277.9" stroke="#3a3a3a" stroke-width="0.9"/>
<text x="165.42" y="280.08" font-size="6.6" fill="#2a2a2a" stroke="#2a2a2a" stroke-width="0.22" text-anchor="start" textLength="8.78" lengthAdjust="spacingAndGlyphs">2,0</text>
<line x1="176.2" y1="266.3" x2="178.4" y2="266.3" stroke="#3a3a3a" stroke-width="0.9"/>
<text x="165.42" y="268.48" font-size="6.6" fill="#2a2a2a" stroke="#2a2a2a" stroke-width="0.22" text-anchor="start" textLength="8.78" lengthAdjust="spacingAndGlyphs">2,5</text>
<line x1="176.2" y1="254.7" x2="178.4" y2="254.7" stroke="#3a3a3a" stroke-width="0.9"/>
<text x="165.42" y="256.88" font-size="6.6" fill="#2a2a2a" stroke="#2a2a2a" stroke-width="0.22" text-anchor="start" textLength="8.78" lengthAdjust="spacingAndGlyphs">3,0</text>
<line x1="178.4" y1="324.3" x2="276" y2="324.3" stroke="#3a3a3a" stroke-width="0.9"/>
<line x1="202.8" y1="324.3" x2="202.8" y2="377.8" stroke="#3a3a3a" stroke-width="0.9"/>
<line x1="227.2" y1="324.3" x2="227.2" y2="364.7" stroke="#3a3a3a" stroke-width="0.9"/>
<line x1="251.6" y1="324.3" x2="251.6" y2="364.7" stroke="#3a3a3a" stroke-width="0.9"/>
<line x1="276" y1="324.3" x2="276" y2="377.8" stroke="#3a3a3a" stroke-width="0.9"/>
<rect x="210" y="316.18" width="10" height="8.12" fill="#b9cde6" stroke="#222" stroke-width="0.8"/>
<line x1="215" y1="307.83" x2="215" y2="324.3" stroke="#222" stroke-width="0.8"/>
<line x1="213.7" y1="307.83" x2="216.3" y2="307.83" stroke="#222" stroke-width="0.8"/>
<line x1="213.7" y1="324.3" x2="216.3" y2="324.3" stroke="#222" stroke-width="0.8"/>
<rect x="234.4" y="302.49" width="10" height="21.81" fill="#5b8ed6" stroke="#222" stroke-width="0.8"/>
<line x1="239.4" y1="292.75" x2="239.4" y2="312.24" stroke="#222" stroke-width="0.8"/>
<line x1="238.1" y1="292.75" x2="240.7" y2="292.75" stroke="#222" stroke-width="0.8"/>
<line x1="238.1" y1="312.24" x2="240.7" y2="312.24" stroke="#222" stroke-width="0.8"/>
<rect x="258.8" y="280.92" width="10" height="43.38" fill="#1f4c88" stroke="#222" stroke-width="0.8"/>
<line x1="263.8" y1="275.35" x2="263.8" y2="286.48" stroke="#222" stroke-width="0.8"/>
<line x1="262.5" y1="275.35" x2="265.1" y2="275.35" stroke="#222" stroke-width="0.8"/>
<line x1="262.5" y1="286.48" x2="265.1" y2="286.48" stroke="#222" stroke-width="0.8"/>
<text transform="translate(193.37 329.4) rotate(-90)" font-size="6.2" stroke="#222" stroke-width="0.22" fill="#222" text-anchor="end" textLength="16.5" lengthAdjust="spacingAndGlyphs">Saline</text>
<text transform="translate(217.77 329.4) rotate(-90)" font-size="6.2" stroke="#222" stroke-width="0.22" fill="#222" text-anchor="end" textLength="32.2" lengthAdjust="spacingAndGlyphs">CDDP/MCA</text>
<text transform="translate(242.17 329.4) rotate(-90)" font-size="6.2" stroke="#222" stroke-width="0.22" fill="#222" text-anchor="end" textLength="33.2" lengthAdjust="spacingAndGlyphs">MAFO/MCA</text>
<text transform="translate(266.57 329.4) rotate(-90)" font-size="6.2" stroke="#222" stroke-width="0.22" fill="#222" text-anchor="end" textLength="9.7" lengthAdjust="spacingAndGlyphs">CTX</text>
<text x="223.7" y="375.6" font-size="6.8" fill="#222" stroke="#222" stroke-width="0.22" text-anchor="start" textLength="27.5" lengthAdjust="spacingAndGlyphs">+αPDL1/2</text>
<polyline points="214.3,261.4 214.3,258.9 260.7,258.9 260.7,261.4" fill="none" stroke="#444" stroke-width="0.8"/>
<line x1="234.3" y1="256.2" x2="234.3" y2="258.8" stroke="#444" stroke-width="0.9"/>
<polyline points="238.6,270.1 238.6,267.9 260.7,267.9 260.7,270.1" fill="none" stroke="#444" stroke-width="0.8"/>
<circle cx="249.6" cy="264.8" r="0.9" fill="#1a1a1a"/>
<text x="356.8" y="250.4" font-size="6.3" font-weight="bold" fill="#111" stroke="#111" stroke-width="0.3" text-anchor="start" textLength="11.8" lengthAdjust="spacingAndGlyphs">Teff</text>
<text transform="translate(297.24 273.7) rotate(-90)" font-size="6.4" font-weight="bold" stroke="#222" stroke-width="0.3" fill="#222" text-anchor="end" textLength="32.3" lengthAdjust="spacingAndGlyphs">percentage</text>
<line x1="312.8" y1="255.3" x2="312.8" y2="377.8" stroke="#3a3a3a" stroke-width="0.9"/>
<line x1="310.6" y1="325" x2="312.8" y2="325" stroke="#3a3a3a" stroke-width="0.9"/>
<text x="303.9" y="327.14" font-size="6.5" fill="#2a2a2a" stroke="#2a2a2a" stroke-width="0.22" text-anchor="start" textLength="3" lengthAdjust="spacingAndGlyphs">0</text>
<line x1="310.6" y1="307.57" x2="312.8" y2="307.57" stroke="#3a3a3a" stroke-width="0.9"/>
<text x="303.9" y="309.72" font-size="6.5" fill="#2a2a2a" stroke="#2a2a2a" stroke-width="0.22" text-anchor="start" textLength="3" lengthAdjust="spacingAndGlyphs">4</text>
<line x1="310.6" y1="290.15" x2="312.8" y2="290.15" stroke="#3a3a3a" stroke-width="0.9"/>
<text x="303.9" y="292.29" font-size="6.5" fill="#2a2a2a" stroke="#2a2a2a" stroke-width="0.22" text-anchor="start" textLength="3" lengthAdjust="spacingAndGlyphs">8</text>
<line x1="310.6" y1="272.73" x2="312.8" y2="272.73" stroke="#3a3a3a" stroke-width="0.9"/>
<text x="300.9" y="274.87" font-size="6.5" fill="#2a2a2a" stroke="#2a2a2a" stroke-width="0.22" text-anchor="start" textLength="6" lengthAdjust="spacingAndGlyphs">12</text>
<line x1="310.6" y1="255.3" x2="312.8" y2="255.3" stroke="#3a3a3a" stroke-width="0.9"/>
<text x="300.9" y="257.44" font-size="6.5" fill="#2a2a2a" stroke="#2a2a2a" stroke-width="0.22" text-anchor="start" textLength="6" lengthAdjust="spacingAndGlyphs">16</text>
<line x1="312.8" y1="325" x2="411.8" y2="325" stroke="#3a3a3a" stroke-width="0.9"/>
<line x1="337.55" y1="325" x2="337.55" y2="377.8" stroke="#3a3a3a" stroke-width="0.9"/>
<line x1="362.3" y1="325" x2="362.3" y2="365.3" stroke="#3a3a3a" stroke-width="0.9"/>
<line x1="387.05" y1="325" x2="387.05" y2="365.3" stroke="#3a3a3a" stroke-width="0.9"/>
<line x1="411.8" y1="325" x2="411.8" y2="377.8" stroke="#3a3a3a" stroke-width="0.9"/>
<rect x="320.07" y="284.66" width="10.2" height="40.34" fill="#000" stroke="#222" stroke-width="0.8"/>
<line x1="325.18" y1="280.74" x2="325.18" y2="288.58" stroke="#222" stroke-width="0.8"/>
<line x1="323.88" y1="280.74" x2="326.48" y2="280.74" stroke="#222" stroke-width="0.8"/>
<line x1="323.88" y1="288.58" x2="326.48" y2="288.58" stroke="#222" stroke-width="0.8"/>
<rect x="344.82" y="288.58" width="10.2" height="36.42" fill="#b9cde6" stroke="#222" stroke-width="0.8"/>
<line x1="349.93" y1="282.05" x2="349.93" y2="295.12" stroke="#222" stroke-width="0.8"/>
<line x1="348.62" y1="282.05" x2="351.23" y2="282.05" stroke="#222" stroke-width="0.8"/>
<line x1="348.62" y1="295.12" x2="351.23" y2="295.12" stroke="#222" stroke-width="0.8"/>
<rect x="369.57" y="270.98" width="10.2" height="54.02" fill="#5b8ed6" stroke="#222" stroke-width="0.8"/>
<line x1="374.68" y1="263.58" x2="374.68" y2="278.39" stroke="#222" stroke-width="0.8"/>
<line x1="373.38" y1="263.58" x2="375.98" y2="263.58" stroke="#222" stroke-width="0.8"/>
<line x1="373.38" y1="278.39" x2="375.98" y2="278.39" stroke="#222" stroke-width="0.8"/>
<rect x="394.32" y="311.06" width="10.2" height="13.94" fill="#1f4c88" stroke="#222" stroke-width="0.8"/>
<line x1="399.43" y1="305.53" x2="399.43" y2="316.59" stroke="#222" stroke-width="0.8"/>
<line x1="398.12" y1="305.53" x2="400.73" y2="305.53" stroke="#222" stroke-width="0.8"/>
<line x1="398.12" y1="316.59" x2="400.73" y2="316.59" stroke="#222" stroke-width="0.8"/>
<text transform="translate(327.95 329.4) rotate(-90)" font-size="6.2" stroke="#222" stroke-width="0.22" fill="#222" text-anchor="end" textLength="16.5" lengthAdjust="spacingAndGlyphs">Saline</text>
<text transform="translate(352.7 329.4) rotate(-90)" font-size="6.2" stroke="#222" stroke-width="0.22" fill="#222" text-anchor="end" textLength="32.2" lengthAdjust="spacingAndGlyphs">CDDP/MCA</text>
<text transform="translate(377.45 329.4) rotate(-90)" font-size="6.2" stroke="#222" stroke-width="0.22" fill="#222" text-anchor="end" textLength="33.2" lengthAdjust="spacingAndGlyphs">MAFO/MCA</text>
<text transform="translate(402.2 329.4) rotate(-90)" font-size="6.2" stroke="#222" stroke-width="0.22" fill="#222" text-anchor="end" textLength="9.7" lengthAdjust="spacingAndGlyphs">CTX</text>
<text x="360" y="375.6" font-size="6.8" fill="#222" stroke="#222" stroke-width="0.22" text-anchor="start" textLength="28.2" lengthAdjust="spacingAndGlyphs">+αPDL1/2</text>
<circle cx="398.8" cy="295.8" r="0.9" fill="#1a1a1a"/>
<text x="17.65" y="406.3" font-size="9.6" font-weight="bold" fill="#0a0a0a" stroke="#0a0a0a" stroke-width="0.45" textLength="4.5" lengthAdjust="spacingAndGlyphs">E</text>
<text x="48.1" y="408.6" font-size="6.4" font-weight="bold" fill="#111" stroke="#111" stroke-width="0.3" text-anchor="start" textLength="71.4" lengthAdjust="spacingAndGlyphs">Tumor-infiltrating CD3+</text>
<text transform="translate(21.61 430.8) rotate(-90)" font-size="6.6" stroke="#2a2a2a" stroke-width="0.22" fill="#2a2a2a" text-anchor="end" textLength="31.7" lengthAdjust="spacingAndGlyphs">Percentage</text>
<line x1="37.3" y1="410.8" x2="37.3" y2="534.7" stroke="#3a3a3a" stroke-width="0.9"/>
<line x1="35.1" y1="482.4" x2="37.3" y2="482.4" stroke="#3a3a3a" stroke-width="0.9"/>
<text x="28.9" y="484.54" font-size="6.5" fill="#2a2a2a" stroke="#2a2a2a" stroke-width="0.22" text-anchor="start" textLength="3" lengthAdjust="spacingAndGlyphs">0</text>
<line x1="35.1" y1="470.47" x2="37.3" y2="470.47" stroke="#3a3a3a" stroke-width="0.9"/>
<text x="28.9" y="472.61" font-size="6.5" fill="#2a2a2a" stroke="#2a2a2a" stroke-width="0.22" text-anchor="start" textLength="3" lengthAdjust="spacingAndGlyphs">5</text>
<line x1="35.1" y1="458.53" x2="37.3" y2="458.53" stroke="#3a3a3a" stroke-width="0.9"/>
<text x="25.9" y="460.68" font-size="6.5" fill="#2a2a2a" stroke="#2a2a2a" stroke-width="0.22" text-anchor="start" textLength="6" lengthAdjust="spacingAndGlyphs">10</text>
<line x1="35.1" y1="446.6" x2="37.3" y2="446.6" stroke="#3a3a3a" stroke-width="0.9"/>
<text x="25.9" y="448.75" font-size="6.5" fill="#2a2a2a" stroke="#2a2a2a" stroke-width="0.22" text-anchor="start" textLength="6" lengthAdjust="spacingAndGlyphs">15</text>
<line x1="35.1" y1="434.67" x2="37.3" y2="434.67" stroke="#3a3a3a" stroke-width="0.9"/>
<text x="25.9" y="436.81" font-size="6.5" fill="#2a2a2a" stroke="#2a2a2a" stroke-width="0.22" text-anchor="start" textLength="6" lengthAdjust="spacingAndGlyphs">20</text>
<line x1="35.1" y1="422.73" x2="37.3" y2="422.73" stroke="#3a3a3a" stroke-width="0.9"/>
<text x="25.9" y="424.88" font-size="6.5" fill="#2a2a2a" stroke="#2a2a2a" stroke-width="0.22" text-anchor="start" textLength="6" lengthAdjust="spacingAndGlyphs">25</text>
<line x1="35.1" y1="410.8" x2="37.3" y2="410.8" stroke="#3a3a3a" stroke-width="0.9"/>
<text x="25.9" y="412.94" font-size="6.5" fill="#2a2a2a" stroke="#2a2a2a" stroke-width="0.22" text-anchor="start" textLength="6" lengthAdjust="spacingAndGlyphs">30</text>
<line x1="37.3" y1="482.4" x2="130" y2="482.4" stroke="#3a3a3a" stroke-width="0.9"/>
<line x1="60.47" y1="482.4" x2="60.47" y2="534.7" stroke="#3a3a3a" stroke-width="0.9"/>
<line x1="83.65" y1="482.4" x2="83.65" y2="522.1" stroke="#3a3a3a" stroke-width="0.9"/>
<line x1="106.83" y1="482.4" x2="106.83" y2="522.1" stroke="#3a3a3a" stroke-width="0.9"/>
<line x1="130" y1="482.4" x2="130" y2="534.7" stroke="#3a3a3a" stroke-width="0.9"/>
<rect x="43.89" y="463.55" width="10" height="18.85" fill="#000" stroke="#222" stroke-width="0.8"/>
<line x1="48.89" y1="458.53" x2="48.89" y2="468.56" stroke="#222" stroke-width="0.8"/>
<line x1="47.59" y1="458.53" x2="50.19" y2="458.53" stroke="#222" stroke-width="0.8"/>
<line x1="47.59" y1="468.56" x2="50.19" y2="468.56" stroke="#222" stroke-width="0.8"/>
<rect x="67.06" y="459.73" width="10" height="22.67" fill="#b9cde6" stroke="#222" stroke-width="0.8"/>
<line x1="72.06" y1="459.01" x2="72.06" y2="460.44" stroke="#222" stroke-width="0.8"/>
<line x1="70.76" y1="459.01" x2="73.36" y2="459.01" stroke="#222" stroke-width="0.8"/>
<line x1="70.76" y1="460.44" x2="73.36" y2="460.44" stroke="#222" stroke-width="0.8"/>
<rect x="90.24" y="443.02" width="10" height="39.38" fill="#5b8ed6" stroke="#222" stroke-width="0.8"/>
<line x1="95.24" y1="434.19" x2="95.24" y2="451.85" stroke="#222" stroke-width="0.8"/>
<line x1="93.94" y1="434.19" x2="96.54" y2="434.19" stroke="#222" stroke-width="0.8"/>
<line x1="93.94" y1="451.85" x2="96.54" y2="451.85" stroke="#222" stroke-width="0.8"/>
<rect x="113.41" y="431.8" width="10" height="50.6" fill="#1f4c88" stroke="#222" stroke-width="0.8"/>
<line x1="118.41" y1="428.22" x2="118.41" y2="435.38" stroke="#222" stroke-width="0.8"/>
<line x1="117.11" y1="428.22" x2="119.71" y2="428.22" stroke="#222" stroke-width="0.8"/>
<line x1="117.11" y1="435.38" x2="119.71" y2="435.38" stroke="#222" stroke-width="0.8"/>
<text transform="translate(51.66 485.5) rotate(-90)" font-size="6.2" stroke="#222" stroke-width="0.22" fill="#222" text-anchor="end" textLength="17" lengthAdjust="spacingAndGlyphs">Saline</text>
<text transform="translate(74.83 485.5) rotate(-90)" font-size="6.2" stroke="#222" stroke-width="0.22" fill="#222" text-anchor="end" textLength="34" lengthAdjust="spacingAndGlyphs">CDDP/MCA</text>
<text transform="translate(98.01 485.5) rotate(-90)" font-size="6.2" stroke="#222" stroke-width="0.22" fill="#222" text-anchor="end" textLength="36.1" lengthAdjust="spacingAndGlyphs">MAFO/MCA</text>
<text transform="translate(121.18 485.5) rotate(-90)" font-size="6.2" stroke="#222" stroke-width="0.22" fill="#222" text-anchor="end" textLength="11.8" lengthAdjust="spacingAndGlyphs">CTX</text>
<text x="81.8" y="533.8" font-size="6.8" fill="#222" stroke="#222" stroke-width="0.22" text-anchor="start" textLength="26.7" lengthAdjust="spacingAndGlyphs">+αPDL1/2</text>
<polyline points="48,422.2 48,418.3 117.6,418.3 117.6,422.2" fill="none" stroke="#444" stroke-width="0.8"/>
<line x1="72.6" y1="418.3" x2="72.6" y2="422.2" stroke="#444" stroke-width="0.8"/>
<circle cx="79.7" cy="415.2" r="0.9" fill="#1a1a1a"/>
<polyline points="48,433.3 48,430.4 94.9,430.4 94.9,433.3" fill="none" stroke="#444" stroke-width="0.8"/>
<line x1="73.2" y1="430.4" x2="73.2" y2="433.3" stroke="#444" stroke-width="0.8"/>
<circle cx="69.4" cy="425.5" r="0.9" fill="#1a1a1a"/>
<text x="140.95" y="407.8" font-size="9.6" font-weight="bold" fill="#0a0a0a" stroke="#0a0a0a" stroke-width="0.45" textLength="4.3" lengthAdjust="spacingAndGlyphs">F</text>
<text transform="translate(150.61 439.2) rotate(-90)" font-size="6.6" stroke="#2a2a2a" stroke-width="0.22" fill="#2a2a2a" text-anchor="end" textLength="32.2" lengthAdjust="spacingAndGlyphs">percentage</text>
<line x1="164.3" y1="411.7" x2="164.3" y2="534.7" stroke="#3a3a3a" stroke-width="0.9"/>
<line x1="162.1" y1="482.3" x2="164.3" y2="482.3" stroke="#3a3a3a" stroke-width="0.9"/>
<text x="156.4" y="484.44" font-size="6.5" fill="#2a2a2a" stroke="#2a2a2a" stroke-width="0.22" text-anchor="start" textLength="3" lengthAdjust="spacingAndGlyphs">0</text>
<line x1="162.1" y1="464.65" x2="164.3" y2="464.65" stroke="#3a3a3a" stroke-width="0.9"/>
<text x="153.4" y="466.79" font-size="6.5" fill="#2a2a2a" stroke="#2a2a2a" stroke-width="0.22" text-anchor="start" textLength="6" lengthAdjust="spacingAndGlyphs">20</text>
<line x1="162.1" y1="447" x2="164.3" y2="447" stroke="#3a3a3a" stroke-width="0.9"/>
<text x="153.4" y="449.14" font-size="6.5" fill="#2a2a2a" stroke="#2a2a2a" stroke-width="0.22" text-anchor="start" textLength="6" lengthAdjust="spacingAndGlyphs">40</text>
<line x1="162.1" y1="429.35" x2="164.3" y2="429.35" stroke="#3a3a3a" stroke-width="0.9"/>
<text x="153.4" y="431.5" font-size="6.5" fill="#2a2a2a" stroke="#2a2a2a" stroke-width="0.22" text-anchor="start" textLength="6" lengthAdjust="spacingAndGlyphs">60</text>
<line x1="162.1" y1="411.7" x2="164.3" y2="411.7" stroke="#3a3a3a" stroke-width="0.9"/>
<text x="153.4" y="413.84" font-size="6.5" fill="#2a2a2a" stroke="#2a2a2a" stroke-width="0.22" text-anchor="start" textLength="6" lengthAdjust="spacingAndGlyphs">80</text>
<line x1="164.3" y1="482.3" x2="254.4" y2="482.3" stroke="#3a3a3a" stroke-width="0.9"/>
<line x1="186.83" y1="482.3" x2="186.83" y2="534.7" stroke="#3a3a3a" stroke-width="0.9"/>
<line x1="209.35" y1="482.3" x2="209.35" y2="521.6" stroke="#3a3a3a" stroke-width="0.9"/>
<line x1="231.88" y1="482.3" x2="231.88" y2="521.6" stroke="#3a3a3a" stroke-width="0.9"/>
<line x1="254.4" y1="482.3" x2="254.4" y2="534.7" stroke="#3a3a3a" stroke-width="0.9"/>
<rect x="168.96" y="433.76" width="6.6" height="48.54" fill="#fff" stroke="#111" stroke-width="0.8"/>
<rect x="175.56" y="456.71" width="6.6" height="25.59" fill="#000" stroke="#000" stroke-width="0.8"/>
<line x1="172.26" y1="431.12" x2="172.26" y2="436.41" stroke="#222" stroke-width="0.8"/>
<line x1="171.06" y1="431.12" x2="173.46" y2="431.12" stroke="#222" stroke-width="0.8"/>
<line x1="171.06" y1="436.41" x2="173.46" y2="436.41" stroke="#222" stroke-width="0.8"/>
<line x1="178.86" y1="453.62" x2="178.86" y2="459.8" stroke="#222" stroke-width="0.8"/>
<line x1="177.66" y1="453.62" x2="180.06" y2="453.62" stroke="#222" stroke-width="0.8"/>
<line x1="177.66" y1="459.8" x2="180.06" y2="459.8" stroke="#222" stroke-width="0.8"/>
<rect x="191.49" y="457.59" width="6.6" height="24.71" fill="#fff" stroke="#111" stroke-width="0.8"/>
<rect x="198.09" y="436.41" width="6.6" height="45.89" fill="#000" stroke="#000" stroke-width="0.8"/>
<line x1="194.79" y1="452.56" x2="194.79" y2="462.62" stroke="#222" stroke-width="0.8"/>
<line x1="193.59" y1="452.56" x2="195.99" y2="452.56" stroke="#222" stroke-width="0.8"/>
<line x1="193.59" y1="462.62" x2="195.99" y2="462.62" stroke="#222" stroke-width="0.8"/>
<line x1="201.39" y1="433.32" x2="201.39" y2="439.5" stroke="#222" stroke-width="0.8"/>
<line x1="200.19" y1="433.32" x2="202.59" y2="433.32" stroke="#222" stroke-width="0.8"/>
<line x1="200.19" y1="439.5" x2="202.59" y2="439.5" stroke="#222" stroke-width="0.8"/>
<rect x="214.01" y="456.71" width="6.6" height="25.59" fill="#fff" stroke="#111" stroke-width="0.8"/>
<rect x="220.61" y="435.17" width="6.6" height="47.13" fill="#000" stroke="#000" stroke-width="0.8"/>
<line x1="217.31" y1="450.09" x2="217.31" y2="463.33" stroke="#222" stroke-width="0.8"/>
<line x1="216.11" y1="450.09" x2="218.51" y2="450.09" stroke="#222" stroke-width="0.8"/>
<line x1="216.11" y1="463.33" x2="218.51" y2="463.33" stroke="#222" stroke-width="0.8"/>
<line x1="223.91" y1="431.38" x2="223.91" y2="438.97" stroke="#222" stroke-width="0.8"/>
<line x1="222.71" y1="431.38" x2="225.11" y2="431.38" stroke="#222" stroke-width="0.8"/>
<line x1="222.71" y1="438.97" x2="225.11" y2="438.97" stroke="#222" stroke-width="0.8"/>
<rect x="236.54" y="465.53" width="6.6" height="16.77" fill="#fff" stroke="#111" stroke-width="0.8"/>
<rect x="243.14" y="421.94" width="6.6" height="60.36" fill="#000" stroke="#000" stroke-width="0.8"/>
<line x1="239.84" y1="465.27" x2="239.84" y2="465.8" stroke="#222" stroke-width="0.8"/>
<line x1="238.64" y1="465.27" x2="241.04" y2="465.27" stroke="#222" stroke-width="0.8"/>
<line x1="238.64" y1="465.8" x2="241.04" y2="465.8" stroke="#222" stroke-width="0.8"/>
<line x1="246.44" y1="418.67" x2="246.44" y2="425.2" stroke="#222" stroke-width="0.8"/>
<line x1="245.24" y1="418.67" x2="247.64" y2="418.67" stroke="#222" stroke-width="0.8"/>
<line x1="245.24" y1="425.2" x2="247.64" y2="425.2" stroke="#222" stroke-width="0.8"/>
<text transform="translate(178.33 485.5) rotate(-90)" font-size="6.2" stroke="#222" stroke-width="0.22" fill="#222" text-anchor="end" textLength="17.8" lengthAdjust="spacingAndGlyphs">Saline</text>
<text transform="translate(200.86 485.5) rotate(-90)" font-size="6.2" stroke="#222" stroke-width="0.22" fill="#222" text-anchor="end" textLength="33.5" lengthAdjust="spacingAndGlyphs">CDDP/MCA</text>
<text transform="translate(223.38 485.5) rotate(-90)" font-size="6.2" stroke="#222" stroke-width="0.22" fill="#222" text-anchor="end" textLength="36.1" lengthAdjust="spacingAndGlyphs">MAFO/MCA</text>
<text transform="translate(245.91 485.5) rotate(-90)" font-size="6.2" stroke="#222" stroke-width="0.22" fill="#222" text-anchor="end" textLength="11.8" lengthAdjust="spacingAndGlyphs">CTX</text>
<text x="206.3" y="533.8" font-size="6.8" fill="#222" stroke="#222" stroke-width="0.22" text-anchor="start" textLength="28" lengthAdjust="spacingAndGlyphs">+αPDL1/2</text>
<polyline points="199.5,417.5 199.5,413.9 245.6,413.9 245.6,417.5" fill="none" stroke="#444" stroke-width="0.8"/>
<line x1="223.9" y1="413.9" x2="223.9" y2="417.5" stroke="#444" stroke-width="0.8"/>
<circle cx="223.8" cy="410" r="0.9" fill="#1a1a1a"/>
<rect x="257.6" y="419.6" width="3" height="3.6" fill="#fff" stroke="#111" stroke-width="0.8"/>
<text x="261.6" y="423.6" font-size="6.6" fill="#222" stroke="#222" stroke-width="0.22" text-anchor="start" textLength="18.3" lengthAdjust="spacingAndGlyphs">CD4+T</text>
<rect x="257.3" y="427.6" width="3.5" height="4.2" fill="#000" stroke="#000" stroke-width="0"/>
<text x="261.6" y="431.8" font-size="6.6" fill="#222" stroke="#222" stroke-width="0.22" text-anchor="start" textLength="18.3" lengthAdjust="spacingAndGlyphs">CD8+T</text>
<text x="283.45" y="406.3" font-size="9.6" font-weight="bold" fill="#0a0a0a" stroke="#0a0a0a" stroke-width="0.45" textLength="5.8" lengthAdjust="spacingAndGlyphs">G</text>
<text x="349.3" y="405.8" font-size="6.3" font-weight="bold" fill="#111" stroke="#111" stroke-width="0.3" text-anchor="start" textLength="24.3" lengthAdjust="spacingAndGlyphs">CD8+ TIL</text>
<text transform="translate(300.3 427.5) rotate(-90)" font-size="6" font-weight="bold" stroke="#222" stroke-width="0.3" fill="#222" text-anchor="end" textLength="63.3" lengthAdjust="spacingAndGlyphs">% of PD1+Tim-3+ cells</text>
<line x1="314.7" y1="409.7" x2="314.7" y2="532.6" stroke="#3a3a3a" stroke-width="0.9"/>
<line x1="312.5" y1="480" x2="314.7" y2="480" stroke="#3a3a3a" stroke-width="0.9"/>
<text x="307.2" y="482.14" font-size="6.5" fill="#2a2a2a" stroke="#2a2a2a" stroke-width="0.22" text-anchor="start" textLength="3" lengthAdjust="spacingAndGlyphs">0</text>
<line x1="312.5" y1="468.28" x2="314.7" y2="468.28" stroke="#3a3a3a" stroke-width="0.9"/>
<text x="304.2" y="470.43" font-size="6.5" fill="#2a2a2a" stroke="#2a2a2a" stroke-width="0.22" text-anchor="start" textLength="6" lengthAdjust="spacingAndGlyphs">10</text>
<line x1="312.5" y1="456.57" x2="314.7" y2="456.57" stroke="#3a3a3a" stroke-width="0.9"/>
<text x="304.2" y="458.71" font-size="6.5" fill="#2a2a2a" stroke="#2a2a2a" stroke-width="0.22" text-anchor="start" textLength="6" lengthAdjust="spacingAndGlyphs">20</text>
<line x1="312.5" y1="444.85" x2="314.7" y2="444.85" stroke="#3a3a3a" stroke-width="0.9"/>
<text x="304.2" y="447" font-size="6.5" fill="#2a2a2a" stroke="#2a2a2a" stroke-width="0.22" text-anchor="start" textLength="6" lengthAdjust="spacingAndGlyphs">30</text>
<line x1="312.5" y1="433.13" x2="314.7" y2="433.13" stroke="#3a3a3a" stroke-width="0.9"/>
<text x="304.2" y="435.28" font-size="6.5" fill="#2a2a2a" stroke="#2a2a2a" stroke-width="0.22" text-anchor="start" textLength="6" lengthAdjust="spacingAndGlyphs">40</text>
<line x1="312.5" y1="421.42" x2="314.7" y2="421.42" stroke="#3a3a3a" stroke-width="0.9"/>
<text x="304.2" y="423.56" font-size="6.5" fill="#2a2a2a" stroke="#2a2a2a" stroke-width="0.22" text-anchor="start" textLength="6" lengthAdjust="spacingAndGlyphs">50</text>
<line x1="312.5" y1="409.7" x2="314.7" y2="409.7" stroke="#3a3a3a" stroke-width="0.9"/>
<text x="304.2" y="411.84" font-size="6.5" fill="#2a2a2a" stroke="#2a2a2a" stroke-width="0.22" text-anchor="start" textLength="6" lengthAdjust="spacingAndGlyphs">60</text>
<line x1="314.7" y1="480" x2="415.3" y2="480" stroke="#3a3a3a" stroke-width="0.9"/>
<line x1="339.85" y1="480" x2="339.85" y2="532.6" stroke="#3a3a3a" stroke-width="0.9"/>
<line x1="365" y1="480" x2="365" y2="519.5" stroke="#3a3a3a" stroke-width="0.9"/>
<line x1="390.15" y1="480" x2="390.15" y2="519.5" stroke="#3a3a3a" stroke-width="0.9"/>
<line x1="415.3" y1="480" x2="415.3" y2="532.6" stroke="#3a3a3a" stroke-width="0.9"/>
<rect x="322.02" y="445.32" width="10.5" height="34.68" fill="#000" stroke="#222" stroke-width="0.8"/>
<line x1="327.27" y1="440.28" x2="327.27" y2="450.36" stroke="#222" stroke-width="0.8"/>
<line x1="325.97" y1="440.28" x2="328.57" y2="440.28" stroke="#222" stroke-width="0.8"/>
<line x1="325.97" y1="450.36" x2="328.57" y2="450.36" stroke="#222" stroke-width="0.8"/>
<rect x="347.18" y="429.03" width="10.5" height="50.97" fill="#b9cde6" stroke="#222" stroke-width="0.8"/>
<line x1="352.43" y1="426.45" x2="352.43" y2="431.61" stroke="#222" stroke-width="0.8"/>
<line x1="351.12" y1="426.45" x2="353.73" y2="426.45" stroke="#222" stroke-width="0.8"/>
<line x1="351.12" y1="431.61" x2="353.73" y2="431.61" stroke="#222" stroke-width="0.8"/>
<rect x="372.32" y="419.07" width="10.5" height="60.93" fill="#5b8ed6" stroke="#222" stroke-width="0.8"/>
<line x1="377.57" y1="418.6" x2="377.57" y2="419.54" stroke="#222" stroke-width="0.8"/>
<line x1="376.27" y1="418.6" x2="378.88" y2="418.6" stroke="#222" stroke-width="0.8"/>
<line x1="376.27" y1="419.54" x2="378.88" y2="419.54" stroke="#222" stroke-width="0.8"/>
<rect x="397.48" y="440.05" width="10.5" height="39.95" fill="#1f4c88" stroke="#222" stroke-width="0.8"/>
<line x1="402.73" y1="438.05" x2="402.73" y2="442.04" stroke="#222" stroke-width="0.8"/>
<line x1="401.43" y1="438.05" x2="404.03" y2="438.05" stroke="#222" stroke-width="0.8"/>
<line x1="401.43" y1="442.04" x2="404.03" y2="442.04" stroke="#222" stroke-width="0.8"/>
<text transform="translate(330.05 485) rotate(-90)" font-size="6.2" stroke="#222" stroke-width="0.22" fill="#222" text-anchor="end" textLength="17" lengthAdjust="spacingAndGlyphs">Saline</text>
<text transform="translate(355.2 485) rotate(-90)" font-size="6.2" stroke="#222" stroke-width="0.22" fill="#222" text-anchor="end" textLength="33.2" lengthAdjust="spacingAndGlyphs">CDDP/MCA</text>
<text transform="translate(380.35 485) rotate(-90)" font-size="6.2" stroke="#222" stroke-width="0.22" fill="#222" text-anchor="end" textLength="35" lengthAdjust="spacingAndGlyphs">MAFO/MCA</text>
<text transform="translate(405.5 485) rotate(-90)" font-size="6.2" stroke="#222" stroke-width="0.22" fill="#222" text-anchor="end" textLength="11" lengthAdjust="spacingAndGlyphs">CTX</text>
<text x="363.9" y="532" font-size="6.8" fill="#222" stroke="#222" stroke-width="0.22" text-anchor="start" textLength="27.5" lengthAdjust="spacingAndGlyphs">+αPDL1/2</text>
<polyline points="350.8,415.5 350.8,412.9 403.4,412.9 403.4,415.5" fill="none" stroke="#444" stroke-width="0.8"/>
<line x1="377.5" y1="412.9" x2="377.5" y2="415.5" stroke="#444" stroke-width="0.8"/>
<circle cx="365.7" cy="409.3" r="0.9" fill="#1a1a1a"/>
<circle cx="386" cy="409.3" r="0.9" fill="#1a1a1a"/>
<circle cx="390.2" cy="409.3" r="0.9" fill="#1a1a1a"/>
</svg>
</body></html>
